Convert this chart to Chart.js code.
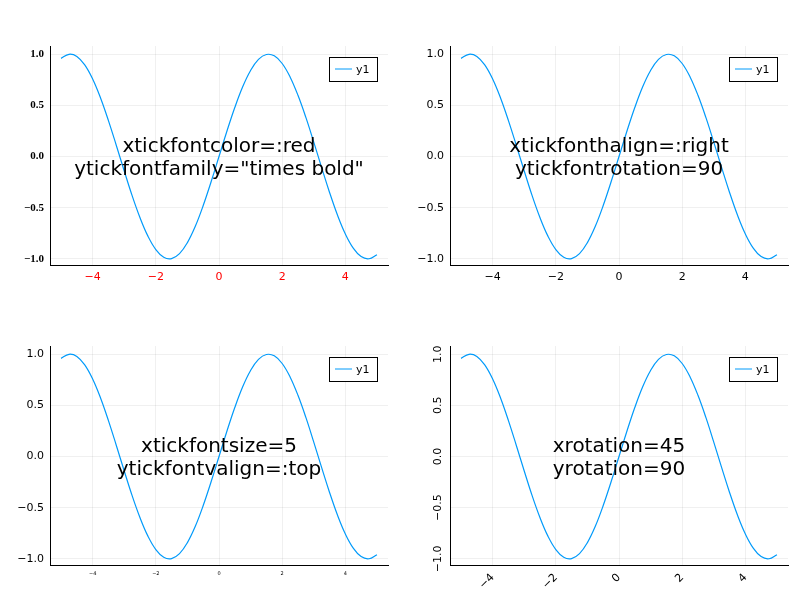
<!DOCTYPE html>
<html>
<head>
<meta charset="utf-8">
<script src="https://cdn.jsdelivr.net/npm/chart.js@4/dist/chart.umd.min.js"></script>
<style>
  body { margin: 0; background: #fff; }
  .grid { display: grid; grid-template-columns: 400px 400px; grid-template-rows: 300px 300px; width: 800px; height: 600px; }
  .cell { position: relative; width: 400px; height: 300px; }
</style>
</head>
<body>
<div class="grid">
  <div class="cell"><canvas id="c1"></canvas></div>
  <div class="cell"><canvas id="c2"></canvas></div>
  <div class="cell"><canvas id="c3"></canvas></div>
  <div class="cell"><canvas id="c4"></canvas></div>
</div>
<script>
const xValues = [-5, -4.75, -4.5, -4.25, -4, -3.75, -3.5, -3.25, -3, -2.75, -2.5, -2.25, -2, -1.75, -1.5, -1.25, -1, -0.75, -0.5, -0.25,
  0, 0.25, 0.5, 0.75, 1, 1.25, 1.5, 1.75, 2, 2.25, 2.5, 2.75, 3, 3.25, 3.5, 3.75, 4, 4.25, 4.5, 4.75, 5];
const y1Values = [0.959, 0.999, 0.978, 0.895, 0.757, 0.572, 0.351, 0.108, -0.141, -0.382, -0.598, -0.778, -0.909, -0.984, -0.997, -0.949, -0.841, -0.682, -0.479, -0.247,
  0, 0.247, 0.479, 0.682, 0.841, 0.949, 0.997, 0.984, 0.909, 0.778, 0.598, 0.382, 0.141, -0.108, -0.351, -0.572, -0.757, -0.895, -0.978, -0.999, -0.959];
const xTicks = [-4, -2, 0, 2, 4];
const yTicks = [-1, -0.5, 0, 0.5, 1];
const yTickLabels = ["\u22121.0", "\u22120.5", "0.0", "0.5", "1.0"];
const titles = [
  ["xtickfontcolor=:red", 'ytickfontfamily="times bold"'],
  ["xtickfonthalign=:right", "ytickfontrotation=90"],
  ["xtickfontsize=5", "ytickfontvalign=:top"],
  ["xrotation=45", "yrotation=90"]
];

const points = xValues.map((x, i) => ({ x: x, y: y1Values[i] }));
const fontFam = "DejaVu Sans";

function makeChart(id, idx, opt) {
  const overlay = {
    id: "overlay",
    afterDraw(chart) {
      const ctx = chart.ctx, a = chart.chartArea;
      ctx.save();
      // legend box
      const bw = 48, bh = 24, bx = a.right - bw - 11, by = a.top + 11;
      ctx.fillStyle = "#fff";
      ctx.fillRect(bx, by, bw, bh);
      ctx.strokeStyle = "#000";
      ctx.lineWidth = 1;
      ctx.strokeRect(bx + 0.5, by + 0.5, bw, bh);
      ctx.strokeStyle = "#009AFA";
      ctx.beginPath();
      ctx.moveTo(bx + 6, by + bh / 2);
      ctx.lineTo(bx + 23, by + bh / 2);
      ctx.stroke();
      ctx.fillStyle = "#000";
      ctx.font = "11px " + fontFam;
      ctx.textBaseline = "middle";
      ctx.fillText("y1", bx + 27, by + bh / 2 + 1);
      // annotation
      const cx = (a.left + a.right) / 2, cy = (a.top + a.bottom) / 2;
      ctx.font = "20px " + fontFam;
      ctx.textAlign = "center";
      ctx.fillText(titles[idx][0], cx, cy - 9);
      ctx.fillText(titles[idx][1], cx, cy + 14);
      // rotated y tick labels
      if (opt.yRot) {
        const ys = chart.scales.y;
        ctx.font = "11px " + fontFam;
        yTicks.forEach((v, i) => {
          ctx.save();
          ctx.translate(a.left - 12, ys.getPixelForValue(v));
          ctx.rotate(-Math.PI / 2);
          ctx.fillText(yTickLabels[i], 0, 0);
          ctx.restore();
        });
      }
      ctx.restore();
    }
  };
  return new Chart(document.getElementById(id), {
    type: "scatter",
    data: { datasets: [{ data: points, showLine: true, borderColor: "#009AFA", borderWidth: 1.2, pointRadius: 0, tension: 0.4 }] },
    options: {
      responsive: false, animation: false,
      layout: { padding: { top: 46, right: 12, left: 2, bottom: 0 } },
      plugins: { legend: { display: false }, tooltip: { enabled: false } },
      scales: {
        x: {
          type: "linear", min: -5.35, max: 5.35,
          afterBuildTicks: s => { s.ticks = xTicks.map(v => ({ value: v })); },
          afterFit: s => { s.height = 35; },
          grid: { color: "rgba(0,0,0,0.06)", drawTicks: false },
          border: { color: "#000" },
          ticks: {
            padding: 6, color: opt.xColor || "#000",
            font: { family: fontFam, size: opt.xSize || 11 },
            minRotation: opt.xRot || 0, maxRotation: opt.xRot || 0,
            callback: v => v < 0 ? "\u2212" + (-v) : String(v)
          }
        },
        y: {
          min: -1.06, max: 1.08,
          afterBuildTicks: s => { s.ticks = yTicks.map(v => ({ value: v })); },
          afterFit: s => { s.width = 48; },
          grid: { color: "rgba(0,0,0,0.06)", drawTicks: false },
          border: { color: "#000" },
          ticks: {
            padding: 6, color: opt.yRot ? "rgba(0,0,0,0)" : "#000",
            font: { family: opt.yFamily || fontFam, size: 11, weight: opt.yWeight || "normal" },
            callback: v => yTickLabels[yTicks.indexOf(v)]
          }
        }
      }
    },
    plugins: [overlay]
  });
}

[1, 2, 3, 4].forEach(i => {
  const c = document.getElementById("c" + i);
  c.width = 400; c.height = 300;
});
makeChart("c1", 0, { xColor: "#ff0000", yFamily: "Liberation Serif", yWeight: "bold" });
makeChart("c2", 1, {});
makeChart("c3", 2, { xSize: 5 });
makeChart("c4", 3, { xRot: 45, yRot: true });
</script>
</body>
</html>
